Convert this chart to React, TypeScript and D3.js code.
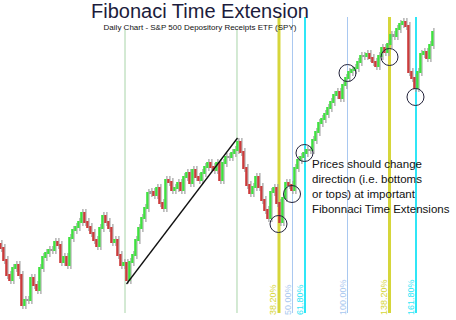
import React from "react";
import * as d3 from "d3";

const W = 456;
const H = 320;

const title = "Fibonaci Time Extension";
const subtitle = "Daily Chart - S&P 500 Depository Receipts ETF (SPY)";
const note = [
  "Prices should change",
  "direction (i.e. bottoms",
  "or tops) at important",
  "Fibonnaci Time Extensions",
];

const firstOpen = 76;
const closes = [
  72, 60, 45, 40, 52, 55, 45, 15, 20, 20, 42, 35, 30, 52, 63, 67, 70, 70, 78, 75,
  58, 63, 55, 82, 90, 93, 98, 107, 98, 93, 87, 80, 74, 92, 104, 98, 92, 78, 80, 65,
  55, 57, 40, 58, 65, 80, 92, 102, 112, 127, 128, 125, 132, 117, 112, 140, 138, 130, 132, 137,
  130, 143, 147, 137, 150, 143, 140, 147, 153, 157, 153, 150, 157, 140, 157, 163, 163, 167, 170, 178,
  168, 152, 135, 127, 133, 143, 133, 120, 110, 102, 128, 132, 117, 98, 122, 137, 135, 130, 152, 160,
  163, 167, 170, 170, 180, 188, 197, 201, 206, 212, 218, 225, 228, 222, 235, 242, 248, 250, 252, 258,
  264, 264, 266, 262, 258, 254, 264, 272, 268, 276, 285, 284, 291, 296, 298, 294, 248, 242, 232, 248,
  266, 268, 262, 275, 288,
];

// Fibonacci time extension: base swing low -> swing high, then the ratio lines (bar index positions)
const baseDays = [41.5, 78.83];
const fibDays = [92.83, 97.33, 101.5, 115.67, 129.67, 138.5];
const fibLabels = ["38.20%", "50.00%", "61.80%", "100.00%", "138.20%", "161.80%"];
const fibColors = ["#d6d63a", "#a9c8f0", "#2fe6f6", "#a9c8f0", "#d6d63a", "#2fe6f6"];
const fibWidths = [3, 1, 2, 1, 3, 2];

// turning points circled on the chart: [bar index, price]
const turnDays = [92.67, 97.17, 101.33, 115.67, 129.67, 138.33];
const turnPrices = [96, 126, 167, 247, 263, 223];

// trend line: swing low bar -> swing high bar
const swingLowIdx = 42;
const swingHighIdx = 79;

export default function App() {
  const n = closes.length;
  const x = d3.scaleLinear().domain([0, n - 1]).range([0.5, 0.5 + 3 * (n - 1)]);
  const y = d3.scaleLinear().domain([0, 320]).range([320, 0]);
  const wick = 4;

  const bars = closes.map((c, i) => {
    const o = i === 0 ? firstOpen : closes[i - 1];
    const top = y(Math.max(o, c));
    const bot = y(Math.min(o, c));
    const diff = c - o;
    const color = Math.abs(diff) < 2 ? "#9a9a9a" : diff > 0 ? "#3ee23e" : "#cc3b3b";
    return { i, top, bot, color };
  });

  const lowBar = bars[swingLowIdx];
  const highBar = bars[swingHighIdx];

  return (
    <svg
      width={W}
      height={H}
      style={{ position: "absolute", left: 0, top: 0, background: "#fff" }}
      fontFamily="'Liberation Sans', Arial, sans-serif"
    >
      <rect width={W} height={H} fill="#fff" />
      {baseDays.map((d, k) => (
        <line key={"b" + k} x1={x(d)} x2={x(d)} y1={30} y2={313} stroke="#a8d4a8" strokeWidth={1} />
      ))}
      {fibDays.map((d, k) => (
        <line
          key={"f" + k}
          x1={x(d)}
          x2={x(d)}
          y1={17}
          y2={313}
          stroke={fibColors[k]}
          strokeWidth={fibWidths[k]}
        />
      ))}
      {fibDays.map((d, k) => (
        <text
          key={"l" + k}
          transform={`translate(${x(d) - fibWidths[k] / 2 - 1},315) rotate(-90)`}
          fontSize={9}
          fill={fibColors[k]}
        >
          {fibLabels[k]}
        </text>
      ))}
      <g>
        {bars.map((b) => (
          <g key={b.i}>
            <rect x={x(b.i) + 0.8} y={b.top - wick} width={1.2} height={b.bot - b.top + 2 * wick} fill="#a0a0a0" />
            <rect x={x(b.i) - 1.3} y={b.top - 1} width={2.3} height={Math.max(2, b.bot - b.top + 2)} fill={b.color} />
          </g>
        ))}
      </g>
      <line
        x1={x(lowBar.i)}
        y1={lowBar.bot + wick}
        x2={x(highBar.i)}
        y2={highBar.top - wick}
        stroke="#111"
        strokeWidth={1.3}
      />
      {turnDays.map((d, k) => (
        <circle key={"c" + k} cx={x(d)} cy={y(turnPrices[k])} r={8.5} fill="none" stroke="#22223a" strokeWidth={1} />
      ))}
      <text x={200} y={18} textAnchor="middle" fontSize={20} fill="#1c1c3c">
        {title}
      </text>
      <text x={200} y={30} textAnchor="middle" fontSize={8} fill="#111">
        {subtitle}
      </text>
      {note.map((t, k) => (
        <text key={"n" + k} x={312} y={168 + 15 * k} fontSize={11.5} fill="#111">
          {t}
        </text>
      ))}
    </svg>
  );
}
